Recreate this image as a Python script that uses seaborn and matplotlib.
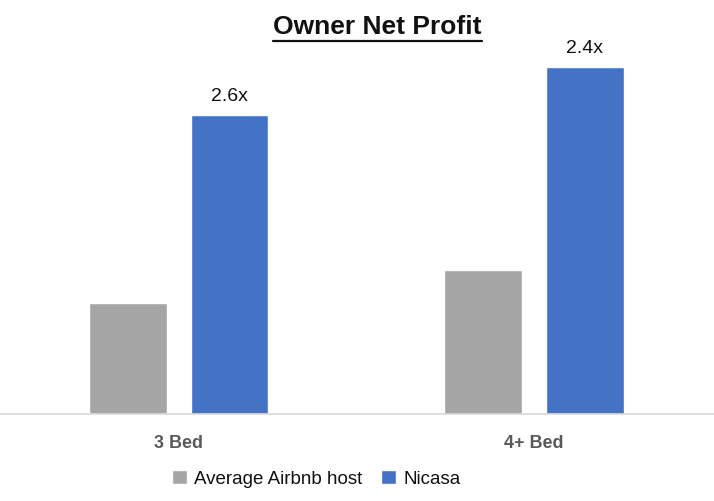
import pandas as pd
import seaborn as sns
import matplotlib.pyplot as plt
from matplotlib.lines import Line2D

# chart data
categories = ['3 Bed', '4+ Bed']
series = ['Average Airbnb host', 'Nicasa']
avg_host = [11.9, 15.4]
nicasa = [31.9, 37.0]
multiples = ['2.6x', '2.4x']

df = pd.DataFrame({
    'Bedrooms': categories * 2,
    'Host': [series[0]] * 2 + [series[1]] * 2,
    'Profit': avg_host + nicasa,
})

sns.set_style('white')
plt.rcParams['font.family'] = ['Liberation Sans', 'DejaVu Sans']

fig = plt.figure(figsize=(7.14, 5.02), dpi=100)
ax = fig.add_axes([0, 0.173, 1, 0.747])
palette = {series[0]: '#A5A5A5', series[1]: '#4472C4'}
sns.barplot(data=df, x='Bedrooms', y='Profit', hue='Host', palette=palette,
            width=0.57, gap=0.23, ax=ax, legend=True, saturation=1)

ax.set_xlim(-0.504, 1.507)
ax.set_ylim(0, 40)
ax.set_xlabel('')
ax.set_ylabel('')
ax.set_yticks([])
for s in ['top', 'left', 'right']:
    ax.spines[s].set_visible(False)
ax.spines['bottom'].set_color('#D9D9D9')
ax.spines['bottom'].set_linewidth(1.2)
ax.tick_params(axis='x', length=0, pad=14)
for lbl in ax.get_xticklabels():
    lbl.set_fontsize(13)
    lbl.set_fontweight('bold')
    lbl.set_color('#595959')

ax.bar_label(ax.containers[1], labels=multiples, padding=8, fontsize=14, color='#111111')

handles, labels = ax.get_legend_handles_labels()
ax.get_legend().remove()
fig.legend(handles, labels, loc='center', bbox_to_anchor=(0.443, 0.045), ncol=2,
           frameon=False, fontsize=13.5, handlelength=0.8, handleheight=0.8,
           handletextpad=0.4, columnspacing=1.0, labelcolor='#111111')

title = fig.text(0.529, 0.946, 'Owner Net Profit', ha='center', va='center',
                 fontsize=19, fontweight='bold', color='#111111')

# underline the title
fig.canvas.draw()
bb = title.get_window_extent(renderer=fig.canvas.get_renderer())
W, H = fig.get_size_inches() * fig.dpi
y_line = (bb.y0 - 3) / H
fig.add_artist(Line2D([bb.x0 / W, bb.x1 / W], [y_line, y_line], color='#111111', linewidth=1.6))

plt.savefig('out.png', dpi=100)
